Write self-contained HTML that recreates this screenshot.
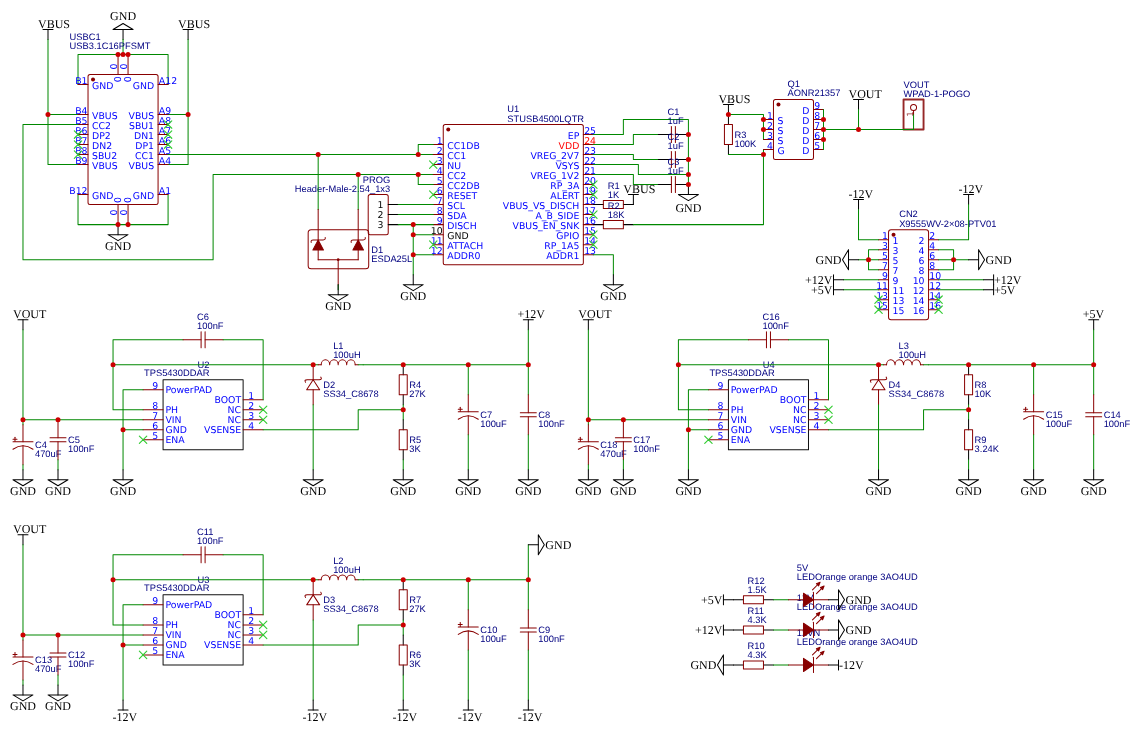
<!DOCTYPE html>
<html><head><meta charset="utf-8"><title>Schematic</title>
<style>
html,body{margin:0;padding:0;background:#fff;}
svg{display:block;will-change:transform}
svg text{text-rendering:geometricPrecision}
.p{font:9.33px "DejaVu Sans","Liberation Sans",sans-serif;fill:#0000ff;stroke:none}
.l{font:9.33px "Liberation Sans",sans-serif;fill:#000080;stroke:none}
.w{font:12px "Liberation Serif",serif;fill:#000;stroke:none}
</style></head><body>
<svg width="1140" height="734" viewBox="0 0 1140 734" fill="none" stroke-linecap="round" stroke-linejoin="round">
<g transform="matrix(1.00064 0 0 1.00064 -0.031 -0.019)">
<path d="M48 39.5L48 29.5" stroke="#000000"/>
<path d="M43 29.5L53 29.5" stroke="#000000"/>
<text x="38" y="27.7" class="w">VBUS</text>
<path d="M48 39.5L48 164.5L78 164.5" stroke="#008800"/>
<path d="M48 114.5L78 114.5" stroke="#008800"/>
<path d="M188 39.5L188 29.5" stroke="#000000"/>
<path d="M183 29.5L193 29.5" stroke="#000000"/>
<text x="178" y="27.7" class="w">VBUS</text>
<path d="M188 39.5L188 164.5L168 164.5" stroke="#008800"/>
<path d="M188 114.5L168 114.5" stroke="#008800"/>
<path d="M123 39.5L123 29.5" stroke="#000000"/>
<path d="M113 29.5L133 29.5L123 23.5Z" stroke="#000000"/>
<text x="123" y="20.5" class="w" text-anchor="middle">GND</text>
<path d="M123 39.5L123 54.5" stroke="#008800"/>
<path d="M78 84.5L78 54.5L168 54.5L168 84.5" stroke="#008800"/>
<path d="M78 194.5L78 224.5L168 224.5L168 194.5" stroke="#008800"/>
<path d="M118 54.5L118 74.5" stroke="#880000"/>
<path d="M128 54.5L128 74.5" stroke="#880000"/>
<path d="M118 204.5L118 224.5" stroke="#880000"/>
<path d="M128 204.5L128 224.5" stroke="#880000"/>
<rect x="88" y="74.5" width="70" height="130" rx="2" stroke="#880000"/>
<circle cx="93" cy="79.5" r="2" fill="#880000" stroke="none"/>
<path d="M118 224.5L118 234.5" stroke="#000000"/>
<path d="M108 234.5L128 234.5L118 240.5Z" stroke="#000000"/>
<text x="118" y="249.5" class="w" text-anchor="middle">GND</text>
<text x="69.5" y="40.2" class="l">USBC1</text>
<text x="69.5" y="49.4" class="l">USB3.1C16PFSMT</text>
<path d="M78 84.5L88 84.5" stroke="#880000"/>
<text x="87.5" y="83.8" class="p" text-anchor="end">B1</text>
<text x="92" y="88.5" class="p">GND</text>
<path d="M78 114.5L88 114.5" stroke="#880000"/>
<text x="87.5" y="113.8" class="p" text-anchor="end">B4</text>
<text x="92" y="118.5" class="p">VBUS</text>
<path d="M78 124.5L88 124.5" stroke="#880000"/>
<text x="87.5" y="123.8" class="p" text-anchor="end">B5</text>
<text x="92" y="128.5" class="p">CC2</text>
<path d="M78 134.5L88 134.5" stroke="#880000"/>
<text x="87.5" y="133.8" class="p" text-anchor="end">B6</text>
<text x="92" y="138.5" class="p">DP2</text>
<path d="M78 144.5L88 144.5" stroke="#880000"/>
<text x="87.5" y="143.8" class="p" text-anchor="end">B7</text>
<text x="92" y="148.5" class="p">DN2</text>
<path d="M78 154.5L88 154.5" stroke="#880000"/>
<text x="87.5" y="153.8" class="p" text-anchor="end">B8</text>
<text x="92" y="158.5" class="p">SBU2</text>
<path d="M78 164.5L88 164.5" stroke="#880000"/>
<text x="87.5" y="163.8" class="p" text-anchor="end">B9</text>
<text x="92" y="168.5" class="p">VBUS</text>
<path d="M78 194.5L88 194.5" stroke="#880000"/>
<text x="87.5" y="193.8" class="p" text-anchor="end">B12</text>
<text x="92" y="198.5" class="p">GND</text>
<path d="M158 84.5L168 84.5" stroke="#880000"/>
<text x="158.8" y="83.8" class="p">A12</text>
<text x="154" y="88.5" class="p" text-anchor="end">GND</text>
<path d="M158 114.5L168 114.5" stroke="#880000"/>
<text x="158.8" y="113.8" class="p">A9</text>
<text x="154" y="118.5" class="p" text-anchor="end">VBUS</text>
<path d="M158 124.5L168 124.5" stroke="#880000"/>
<text x="158.8" y="123.8" class="p">A8</text>
<text x="154" y="128.5" class="p" text-anchor="end">SBU1</text>
<path d="M158 134.5L168 134.5" stroke="#880000"/>
<text x="158.8" y="133.8" class="p">A7</text>
<text x="154" y="138.5" class="p" text-anchor="end">DN1</text>
<path d="M158 144.5L168 144.5" stroke="#880000"/>
<text x="158.8" y="143.8" class="p">A6</text>
<text x="154" y="148.5" class="p" text-anchor="end">DP1</text>
<path d="M158 154.5L168 154.5" stroke="#880000"/>
<text x="158.8" y="153.8" class="p">A5</text>
<text x="154" y="158.5" class="p" text-anchor="end">CC1</text>
<path d="M158 164.5L168 164.5" stroke="#880000"/>
<text x="158.8" y="163.8" class="p">A4</text>
<text x="154" y="168.5" class="p" text-anchor="end">VBUS</text>
<path d="M158 194.5L168 194.5" stroke="#880000"/>
<text x="158.8" y="193.8" class="p">A1</text>
<text x="154" y="198.5" class="p" text-anchor="end">GND</text>
<path d="M74.3 130.8L81.7 138.2M81.7 130.8L74.3 138.2" stroke="#33cc33" stroke-width="1.15"/>
<path d="M74.3 140.8L81.7 148.2M81.7 140.8L74.3 148.2" stroke="#33cc33" stroke-width="1.15"/>
<path d="M74.3 150.8L81.7 158.2M81.7 150.8L74.3 158.2" stroke="#33cc33" stroke-width="1.15"/>
<path d="M164.3 120.8L171.7 128.2M171.7 120.8L164.3 128.2" stroke="#33cc33" stroke-width="1.15"/>
<path d="M164.3 130.8L171.7 138.2M171.7 130.8L164.3 138.2" stroke="#33cc33" stroke-width="1.15"/>
<path d="M164.3 140.8L171.7 148.2M171.7 140.8L164.3 148.2" stroke="#33cc33" stroke-width="1.15"/>
<text class="p" text-anchor="middle" transform="translate(114.6 66.5) rotate(-90)" x="0" y="2">0</text>
<text class="p" text-anchor="middle" transform="translate(124.7 66.5) rotate(-90)" x="0" y="2">0</text>
<text class="p" text-anchor="middle" transform="translate(118.7 79.3) rotate(-90)" x="0" y="2">0</text>
<text class="p" text-anchor="middle" transform="translate(128.6 79.3) rotate(-90)" x="0" y="2">0</text>
<text class="p" text-anchor="middle" transform="translate(118.7 199.8) rotate(-90)" x="0" y="2">0</text>
<text class="p" text-anchor="middle" transform="translate(128.6 199.8) rotate(-90)" x="0" y="2">0</text>
<text class="p" text-anchor="middle" transform="translate(114.6 212.5) rotate(-90)" x="0" y="2">0</text>
<text class="p" text-anchor="middle" transform="translate(124.7 212.5) rotate(-90)" x="0" y="2">0</text>
<path d="M78 124.5L23 124.5L23 259.5L213 259.5L213 174.5L433 174.5" stroke="#008800"/>
<path d="M168 154.5L433 154.5" stroke="#008800"/>
<rect x="443" y="124.5" width="140" height="140" rx="2" stroke="#880000"/>
<circle cx="448" cy="129.5" r="2" fill="#880000" stroke="none"/>
<text x="507" y="112.4" class="l">U1</text>
<text x="507" y="121.6" class="l">STUSB4500LQTR</text>
<path d="M433 144.5L443 144.5" stroke="#880000"/>
<text x="442.5" y="143.8" class="p" text-anchor="end">1</text>
<text x="447" y="148.5" class="p">CC1DB</text>
<path d="M433 154.5L443 154.5" stroke="#880000"/>
<text x="442.5" y="153.8" class="p" text-anchor="end">2</text>
<text x="447" y="158.5" class="p">CC1</text>
<path d="M433 164.5L443 164.5" stroke="#880000"/>
<text x="442.5" y="163.8" class="p" text-anchor="end">3</text>
<text x="447" y="168.5" class="p">NU</text>
<path d="M433 174.5L443 174.5" stroke="#880000"/>
<text x="442.5" y="173.8" class="p" text-anchor="end">4</text>
<text x="447" y="178.5" class="p">CC2</text>
<path d="M433 184.5L443 184.5" stroke="#880000"/>
<text x="442.5" y="183.8" class="p" text-anchor="end">5</text>
<text x="447" y="188.5" class="p">CC2DB</text>
<path d="M433 194.5L443 194.5" stroke="#880000"/>
<text x="442.5" y="193.8" class="p" text-anchor="end">6</text>
<text x="447" y="198.5" class="p">RESET</text>
<path d="M433 204.5L443 204.5" stroke="#880000"/>
<text x="442.5" y="203.8" class="p" text-anchor="end">7</text>
<text x="447" y="208.5" class="p">SCL</text>
<path d="M433 214.5L443 214.5" stroke="#880000"/>
<text x="442.5" y="213.8" class="p" text-anchor="end">8</text>
<text x="447" y="218.5" class="p">SDA</text>
<path d="M433 224.5L443 224.5" stroke="#880000"/>
<text x="442.5" y="223.8" class="p" text-anchor="end">9</text>
<text x="447" y="228.5" class="p">DISCH</text>
<path d="M433 234.5L443 234.5" stroke="#880000"/>
<text x="442.5" y="233.8" class="p" text-anchor="end" style="fill:#000">10</text>
<text x="447" y="238.5" class="p" style="fill:#000">GND</text>
<path d="M433 244.5L443 244.5" stroke="#880000"/>
<text x="442.5" y="243.8" class="p" text-anchor="end">11</text>
<text x="447" y="248.5" class="p">ATTACH</text>
<path d="M433 254.5L443 254.5" stroke="#880000"/>
<text x="442.5" y="253.8" class="p" text-anchor="end">12</text>
<text x="447" y="258.5" class="p">ADDR0</text>
<path d="M583 134.5L593 134.5" stroke="#880000"/>
<text x="583.8" y="133.8" class="p">25</text>
<text x="579" y="138.5" class="p" text-anchor="end">EP</text>
<path d="M583 144.5L593 144.5" stroke="#880000"/>
<text x="583.8" y="143.8" class="p" style="fill:#f00">24</text>
<text x="579" y="148.5" class="p" text-anchor="end" style="fill:#f00">VDD</text>
<path d="M583 154.5L593 154.5" stroke="#880000"/>
<text x="583.8" y="153.8" class="p">23</text>
<text x="579" y="158.5" class="p" text-anchor="end">VREG_2V7</text>
<path d="M583 164.5L593 164.5" stroke="#880000"/>
<text x="583.8" y="163.8" class="p">22</text>
<text x="579" y="168.5" class="p" text-anchor="end">VSYS</text>
<path d="M583 174.5L593 174.5" stroke="#880000"/>
<text x="583.8" y="173.8" class="p">21</text>
<text x="579" y="178.5" class="p" text-anchor="end">VREG_1V2</text>
<path d="M583 184.5L593 184.5" stroke="#880000"/>
<text x="583.8" y="183.8" class="p">20</text>
<text x="579" y="188.5" class="p" text-anchor="end">RP_3A</text>
<path d="M583 194.5L593 194.5" stroke="#880000"/>
<text x="583.8" y="193.8" class="p">19</text>
<text x="579" y="198.5" class="p" text-anchor="end">ALERT</text>
<path d="M583 204.5L593 204.5" stroke="#880000"/>
<text x="583.8" y="203.8" class="p">18</text>
<text x="579" y="208.5" class="p" text-anchor="end">VBUS_VS_DISCH</text>
<path d="M583 214.5L593 214.5" stroke="#880000"/>
<text x="583.8" y="213.8" class="p">17</text>
<text x="579" y="218.5" class="p" text-anchor="end">A_B_SIDE</text>
<path d="M583 224.5L593 224.5" stroke="#880000"/>
<text x="583.8" y="223.8" class="p">16</text>
<text x="579" y="228.5" class="p" text-anchor="end">VBUS_EN_SNK</text>
<path d="M583 234.5L593 234.5" stroke="#880000"/>
<text x="583.8" y="233.8" class="p">15</text>
<text x="579" y="238.5" class="p" text-anchor="end">GPIO</text>
<path d="M583 244.5L593 244.5" stroke="#880000"/>
<text x="583.8" y="243.8" class="p">14</text>
<text x="579" y="248.5" class="p" text-anchor="end">RP_1A5</text>
<path d="M583 254.5L593 254.5" stroke="#880000"/>
<text x="583.8" y="253.8" class="p">13</text>
<text x="579" y="258.5" class="p" text-anchor="end">ADDR1</text>
<path d="M429.3 160.8L436.7 168.2M436.7 160.8L429.3 168.2" stroke="#33cc33" stroke-width="1.15"/>
<path d="M429.3 190.8L436.7 198.2M436.7 190.8L429.3 198.2" stroke="#33cc33" stroke-width="1.15"/>
<path d="M429.3 240.8L436.7 248.2M436.7 240.8L429.3 248.2" stroke="#33cc33" stroke-width="1.15"/>
<path d="M589.3 180.8L596.7 188.2M596.7 180.8L589.3 188.2" stroke="#33cc33" stroke-width="1.15"/>
<path d="M589.3 190.8L596.7 198.2M596.7 190.8L589.3 198.2" stroke="#33cc33" stroke-width="1.15"/>
<path d="M589.3 210.8L596.7 218.2M596.7 210.8L589.3 218.2" stroke="#33cc33" stroke-width="1.15"/>
<path d="M589.3 230.8L596.7 238.2M596.7 230.8L589.3 238.2" stroke="#33cc33" stroke-width="1.15"/>
<path d="M589.3 240.8L596.7 248.2M596.7 240.8L589.3 248.2" stroke="#33cc33" stroke-width="1.15"/>
<path d="M433 144.5L418 144.5L418 154.5" stroke="#008800"/>
<path d="M433 184.5L418 184.5L418 174.5" stroke="#008800"/>
<rect x="368" y="194.5" width="20" height="40" rx="2" stroke="#880000"/>
<path d="M388 204.5L398 204.5" stroke="#000000"/>
<text x="380.3" y="208" class="p" text-anchor="middle" style="fill:#000">1</text>
<path d="M398 204.5L433 204.5" stroke="#008800"/>
<path d="M388 214.5L398 214.5" stroke="#000000"/>
<text x="380.3" y="218" class="p" text-anchor="middle" style="fill:#000">2</text>
<path d="M398 214.5L433 214.5" stroke="#008800"/>
<path d="M388 224.5L398 224.5" stroke="#000000"/>
<text x="380.3" y="228" class="p" text-anchor="middle" style="fill:#000">3</text>
<path d="M398 224.5L433 224.5" stroke="#008800"/>
<text x="390" y="182.7" class="l" text-anchor="end">PROG</text>
<text x="390" y="191.7" class="l" text-anchor="end">Header-Male-2.54_1x3</text>
<path d="M413 224.5L413 274.5" stroke="#008800"/>
<path d="M413 234.5L433 234.5" stroke="#008800"/>
<path d="M413 254.5L433 254.5" stroke="#008800"/>
<path d="M413 274.5L413 284.5" stroke="#000000"/>
<path d="M403 284.5L423 284.5L413 290.5Z" stroke="#000000"/>
<text x="413" y="299.5" class="w" text-anchor="middle">GND</text>
<path d="M593 254.5L613 254.5L613 274.5" stroke="#008800"/>
<path d="M613 274.5L613 284.5" stroke="#000000"/>
<path d="M603 284.5L623 284.5L613 290.5Z" stroke="#000000"/>
<text x="613" y="299.5" class="w" text-anchor="middle">GND</text>
<path d="M318 154.5L318 209.5" stroke="#008800"/>
<path d="M358 174.5L358 209.5" stroke="#008800"/>
<rect x="308" y="229.5" width="60.5" height="39" rx="3" stroke="#880000"/>
<path d="M318 209.5L318 259.5" stroke="#880000"/>
<path d="M318 239.8L312.7 249.8L323.3 249.8Z" stroke="#880000" fill="#880000"/>
<path d="M311 242.3Q310.4 239.8 313 239.8L323 239.8Q325.6 239.8 325 237.3" stroke="#880000"/>
<path d="M358 209.5L358 259.5" stroke="#880000"/>
<path d="M358 239.8L352.7 249.8L363.3 249.8Z" stroke="#880000" fill="#880000"/>
<path d="M351 242.3Q350.4 239.8 353 239.8L363 239.8Q365.6 239.8 365 237.3" stroke="#880000"/>
<path d="M318 259.5L358 259.5" stroke="#880000"/>
<circle cx="338" cy="259.5" r="1.3" fill="#880000" stroke="none"/>
<path d="M338 259.5L338 284.5" stroke="#880000"/>
<path d="M338 284.5L338 294.5" stroke="#000000"/>
<path d="M328 294.5L348 294.5L338 300.5Z" stroke="#000000"/>
<text x="338" y="309.5" class="w" text-anchor="middle">GND</text>
<path d="M338 284.5L338 289.5" stroke="#004400"/>
<text x="371" y="253" class="l">D1</text>
<text x="371" y="262.2" class="l">ESDA25L</text>
<path d="M593 134.5L623 134.5L623 119.5L688 119.5L688 184.5" stroke="#008800"/>
<path d="M593 144.5L633 144.5L633 134.5L658 134.5" stroke="#008800"/>
<path d="M593 154.5L633 154.5L633 159.5L658 159.5" stroke="#008800"/>
<path d="M593 164.5L638 164.5L638 174.5L688 174.5" stroke="#008800"/>
<path d="M593 174.5L633 174.5L633 184.5L658 184.5" stroke="#008800"/>
<path d="M658 134.5L671 134.5" stroke="#000000"/>
<path d="M675 134.5L688 134.5" stroke="#000000"/>
<path d="M671 126.5L671 142.5" stroke="#880000"/>
<path d="M675 126.5L675 142.5" stroke="#880000"/>
<text x="667.2" y="114.9" class="l">C1</text>
<text x="667.2" y="123.9" class="l">1uF</text>
<path d="M658 159.5L671 159.5" stroke="#000000"/>
<path d="M675 159.5L688 159.5" stroke="#000000"/>
<path d="M671 151.5L671 167.5" stroke="#880000"/>
<path d="M675 151.5L675 167.5" stroke="#880000"/>
<text x="667.2" y="139.9" class="l">C2</text>
<text x="667.2" y="148.9" class="l">1uF</text>
<path d="M658 184.5L671 184.5" stroke="#000000"/>
<path d="M675 184.5L688 184.5" stroke="#000000"/>
<path d="M671 176.5L671 192.5" stroke="#880000"/>
<path d="M675 176.5L675 192.5" stroke="#880000"/>
<text x="667.2" y="164.9" class="l">C3</text>
<text x="667.2" y="173.9" class="l">1uF</text>
<path d="M688 184.5L688 194.5" stroke="#000000"/>
<path d="M678 194.5L698 194.5L688 200.5Z" stroke="#000000"/>
<text x="688" y="211.4" class="w" text-anchor="middle">GND</text>
<path d="M593 204.5L603 204.5" stroke="#000000"/>
<path d="M623 204.5L633 204.5" stroke="#000000"/>
<rect x="603" y="200.5" width="20" height="8" stroke="#880000"/>
<text x="607.5" y="188.7" class="l">R1</text>
<text x="607.5" y="197.9" class="l">1K</text>
<path d="M633 204.5L633 194.5" stroke="#000000"/>
<path d="M628 194.5L638 194.5" stroke="#000000"/>
<text x="623" y="192.7" class="w">VBUS</text>
<path d="M593 224.5L603 224.5" stroke="#000000"/>
<path d="M623 224.5L633 224.5" stroke="#000000"/>
<rect x="603" y="220.5" width="20" height="8" stroke="#880000"/>
<text x="607.5" y="208.7" class="l">R2</text>
<text x="607.5" y="217.9" class="l">18K</text>
<path d="M633 224.5L763 224.5L763 154.5" stroke="#008800"/>
<path d="M728 114.5L728 104.5" stroke="#000000"/>
<path d="M723 104.5L733 104.5" stroke="#000000"/>
<text x="718" y="102.7" class="w">VBUS</text>
<path d="M728 114.5L728 124.5" stroke="#000000"/>
<path d="M728 144.5L728 154.5" stroke="#000000"/>
<rect x="724" y="124.5" width="8" height="20" stroke="#880000"/>
<text x="734" y="137.8" class="l">R3</text>
<text x="734" y="147" class="l">100K</text>
<path d="M728 114.5L763 114.5L763 139.5" stroke="#008800"/>
<path d="M728 154.5L763 154.5L763 149.5" stroke="#008800"/>
<rect x="773" y="99.5" width="40" height="60" rx="2" stroke="#880000"/>
<circle cx="778" cy="104.5" r="2" fill="#880000" stroke="none"/>
<text x="787" y="86.5" class="l">Q1</text>
<text x="787" y="95.7" class="l">AONR21357</text>
<path d="M763 119.5L773 119.5" stroke="#880000"/>
<text x="772.5" y="118.8" class="p" text-anchor="end">1</text>
<text x="777" y="123.5" class="p">S</text>
<path d="M763 129.5L773 129.5" stroke="#880000"/>
<text x="772.5" y="128.8" class="p" text-anchor="end">2</text>
<text x="777" y="133.5" class="p">S</text>
<path d="M763 139.5L773 139.5" stroke="#880000"/>
<text x="772.5" y="138.8" class="p" text-anchor="end">3</text>
<text x="777" y="143.5" class="p">S</text>
<path d="M763 149.5L773 149.5" stroke="#880000"/>
<text x="772.5" y="148.8" class="p" text-anchor="end">4</text>
<text x="777" y="153.5" class="p">G</text>
<path d="M813 109.5L823 109.5" stroke="#880000"/>
<text x="813.8" y="108.8" class="p">9</text>
<text x="809" y="113.5" class="p" text-anchor="end">D</text>
<path d="M813 119.5L823 119.5" stroke="#880000"/>
<text x="813.8" y="118.8" class="p">8</text>
<text x="809" y="123.5" class="p" text-anchor="end">D</text>
<path d="M813 129.5L823 129.5" stroke="#880000"/>
<text x="813.8" y="128.8" class="p">7</text>
<text x="809" y="133.5" class="p" text-anchor="end">D</text>
<path d="M813 139.5L823 139.5" stroke="#880000"/>
<text x="813.8" y="138.8" class="p">6</text>
<text x="809" y="143.5" class="p" text-anchor="end">D</text>
<path d="M813 149.5L823 149.5" stroke="#880000"/>
<text x="813.8" y="148.8" class="p">5</text>
<text x="809" y="153.5" class="p" text-anchor="end">D</text>
<path d="M823 109.5L823 149.5" stroke="#008800"/>
<path d="M858 109.5L858 99.5" stroke="#000000"/>
<path d="M853 99.5L863 99.5" stroke="#000000"/>
<text x="848" y="97.7" class="w">VOUT</text>
<path d="M858 109.5L858 129.5" stroke="#008800"/>
<rect x="903" y="99.5" width="20" height="30" stroke="#962828" stroke-width="1.9"/>
<path d="M823 129.5L913 129.5L913 114" stroke="#008800"/>
<circle cx="913" cy="107.5" r="3" stroke="#880000"/>
<path d="M913 110.5L913 114" stroke="#880000"/>
<text class="p" style="fill:#993333;stroke:none;font-size:8.5px" transform="translate(912.3 116.6) rotate(-90)" x="0" y="0">1</text>
<text x="903" y="87.5" class="l">VOUT</text>
<text x="903" y="96.7" class="l">WPAD-1-POGO</text>
<rect x="888" y="229.5" width="40" height="90" rx="2.5" stroke="#880000"/>
<circle cx="893" cy="234.5" r="2" fill="#880000" stroke="none"/>
<text x="898.6" y="217.2" class="l">CN2</text>
<text x="898.6" y="226.4" class="l">X9555WV-2×08-PTV01</text>
<path d="M878 239.5L888 239.5" stroke="#880000"/>
<text x="887.5" y="238.8" class="p" text-anchor="end">1</text>
<text x="892" y="243.5" class="p">1</text>
<path d="M928 239.5L938 239.5" stroke="#880000"/>
<text x="928.8" y="238.8" class="p">2</text>
<text x="924" y="243.5" class="p" text-anchor="end">2</text>
<path d="M878 249.5L888 249.5" stroke="#880000"/>
<text x="887.5" y="248.8" class="p" text-anchor="end">3</text>
<text x="892" y="253.5" class="p">3</text>
<path d="M928 249.5L938 249.5" stroke="#880000"/>
<text x="928.8" y="248.8" class="p">4</text>
<text x="924" y="253.5" class="p" text-anchor="end">4</text>
<path d="M878 259.5L888 259.5" stroke="#880000"/>
<text x="887.5" y="258.8" class="p" text-anchor="end">5</text>
<text x="892" y="263.5" class="p">5</text>
<path d="M928 259.5L938 259.5" stroke="#880000"/>
<text x="928.8" y="258.8" class="p">6</text>
<text x="924" y="263.5" class="p" text-anchor="end">6</text>
<path d="M878 269.5L888 269.5" stroke="#880000"/>
<text x="887.5" y="268.8" class="p" text-anchor="end">7</text>
<text x="892" y="273.5" class="p">7</text>
<path d="M928 269.5L938 269.5" stroke="#880000"/>
<text x="928.8" y="268.8" class="p">8</text>
<text x="924" y="273.5" class="p" text-anchor="end">8</text>
<path d="M878 279.5L888 279.5" stroke="#880000"/>
<text x="887.5" y="278.8" class="p" text-anchor="end">9</text>
<text x="892" y="283.5" class="p">9</text>
<path d="M928 279.5L938 279.5" stroke="#880000"/>
<text x="928.8" y="278.8" class="p">10</text>
<text x="924" y="283.5" class="p" text-anchor="end">10</text>
<path d="M878 289.5L888 289.5" stroke="#880000"/>
<text x="887.5" y="288.8" class="p" text-anchor="end">11</text>
<text x="892" y="293.5" class="p">11</text>
<path d="M928 289.5L938 289.5" stroke="#880000"/>
<text x="928.8" y="288.8" class="p">12</text>
<text x="924" y="293.5" class="p" text-anchor="end">12</text>
<path d="M878 299.5L888 299.5" stroke="#880000"/>
<text x="887.5" y="298.8" class="p" text-anchor="end">13</text>
<text x="892" y="303.5" class="p">13</text>
<path d="M928 299.5L938 299.5" stroke="#880000"/>
<text x="928.8" y="298.8" class="p">14</text>
<text x="924" y="303.5" class="p" text-anchor="end">14</text>
<path d="M878 309.5L888 309.5" stroke="#880000"/>
<text x="887.5" y="308.8" class="p" text-anchor="end">15</text>
<text x="892" y="313.5" class="p">15</text>
<path d="M928 309.5L938 309.5" stroke="#880000"/>
<text x="928.8" y="308.8" class="p">16</text>
<text x="924" y="313.5" class="p" text-anchor="end">16</text>
<path d="M874.3 295.8L881.7 303.2M881.7 295.8L874.3 303.2" stroke="#33cc33" stroke-width="1.15"/>
<path d="M934.3 295.8L941.7 303.2M941.7 295.8L934.3 303.2" stroke="#33cc33" stroke-width="1.15"/>
<path d="M874.3 305.8L881.7 313.2M881.7 305.8L874.3 313.2" stroke="#33cc33" stroke-width="1.15"/>
<path d="M934.3 305.8L941.7 313.2M941.7 305.8L934.3 313.2" stroke="#33cc33" stroke-width="1.15"/>
<path d="M858 209.5L858 199.5" stroke="#000000"/>
<path d="M853 199.5L863 199.5" stroke="#000000"/>
<text x="848" y="197.7" class="w">-12V</text>
<path d="M858 209.5L858 239.5L878 239.5" stroke="#008800"/>
<path d="M968 204.5L968 194.5" stroke="#000000"/>
<path d="M963 194.5L973 194.5" stroke="#000000"/>
<text x="958" y="192.7" class="w">-12V</text>
<path d="M968 204.5L968 239.5L938 239.5" stroke="#008800"/>
<path d="M878 249.5L868 249.5L868 269.5L878 269.5" stroke="#008800"/>
<path d="M878 259.5L858 259.5" stroke="#008800"/>
<path d="M858 259.5L848 259.5" stroke="#000000"/>
<path d="M848 249.5L848 269.5L842 259.5Z" stroke="#000000"/>
<text x="841" y="263.5" class="w" text-anchor="end">GND</text>
<path d="M938 249.5L953 249.5L953 269.5L938 269.5" stroke="#008800"/>
<path d="M938 259.5L968 259.5" stroke="#008800"/>
<path d="M968 259.5L978 259.5" stroke="#000000"/>
<path d="M978 249.5L978 269.5L984 259.5Z" stroke="#000000"/>
<text x="985" y="263.5" class="w">GND</text>
<path d="M878 279.5L843 279.5" stroke="#008800"/>
<path d="M843 279.5L833 279.5" stroke="#000000"/>
<path d="M833 274.5L833 284.5" stroke="#000000"/>
<text x="832" y="283.5" class="w" text-anchor="end">+12V</text>
<path d="M878 289.5L843 289.5" stroke="#008800"/>
<path d="M843 289.5L833 289.5" stroke="#000000"/>
<path d="M833 284.5L833 294.5" stroke="#000000"/>
<text x="832" y="293.5" class="w" text-anchor="end">+5V</text>
<path d="M938 279.5L983 279.5" stroke="#008800"/>
<path d="M983 279.5L993 279.5" stroke="#000000"/>
<path d="M993 274.5L993 284.5" stroke="#000000"/>
<text x="993.4" y="283.5" class="w">+12V</text>
<path d="M938 289.5L983 289.5" stroke="#008800"/>
<path d="M983 289.5L993 289.5" stroke="#000000"/>
<path d="M993 284.5L993 294.5" stroke="#000000"/>
<text x="993.4" y="293.5" class="w">+5V</text>
<path d="M23 329.5L23 319.5" stroke="#000000"/>
<path d="M18 319.5L28 319.5" stroke="#000000"/>
<text x="13" y="317.7" class="w">VOUT</text>
<path d="M23 329.5L23 424.5" stroke="#008800"/>
<path d="M23 419.5L143 419.5" stroke="#008800"/>
<path d="M23 424.5L23 441.5" stroke="#880000"/>
<path d="M23 445.5L23 464.5" stroke="#880000"/>
<path d="M13 441.5L33 441.5" stroke="#880000"/>
<path d="M13 449Q23 442 33 449" stroke="#880000"/>
<path d="M13 439L17 439" stroke="#880000"/>
<path d="M15 437L15 441" stroke="#880000"/>
<text x="35" y="447.8" class="l">C4</text>
<text x="35" y="457" class="l">470uF</text>
<path d="M23 464.5L23 469.5" stroke="#008800"/>
<path d="M23 469.5L23 479.5" stroke="#000000"/>
<path d="M13 479.5L33 479.5L23 485.5Z" stroke="#000000"/>
<text x="23" y="494.5" class="w" text-anchor="middle">GND</text>
<path d="M58 419.5L58 437.5" stroke="#880000"/>
<path d="M58 441.5L58 459.5" stroke="#880000"/>
<path d="M50 437.5L66 437.5" stroke="#880000"/>
<path d="M50 441.5L66 441.5" stroke="#880000"/>
<text x="68" y="442.8" class="l">C5</text>
<text x="68" y="452" class="l">100nF</text>
<path d="M58 459.5L58 469.5" stroke="#008800"/>
<path d="M58 469.5L58 479.5" stroke="#000000"/>
<path d="M48 479.5L68 479.5L58 485.5Z" stroke="#000000"/>
<text x="58" y="494.5" class="w" text-anchor="middle">GND</text>
<rect x="163" y="379.5" width="80" height="70" stroke="#111"/>
<text x="209.3" y="368" class="l" text-anchor="end">U2</text>
<text x="209.3" y="375.9" class="l" text-anchor="end">TPS5430DDAR</text>
<path d="M143 389.5L163 389.5" stroke="#880000"/>
<text x="158" y="388.8" class="p" text-anchor="end">9</text>
<text x="165.4" y="392.5" class="p">PowerPAD</text>
<path d="M143 409.5L163 409.5" stroke="#880000"/>
<text x="158" y="408.8" class="p" text-anchor="end">8</text>
<text x="165.4" y="412.5" class="p">PH</text>
<path d="M143 419.5L163 419.5" stroke="#880000"/>
<text x="158" y="418.8" class="p" text-anchor="end">7</text>
<text x="165.4" y="422.5" class="p">VIN</text>
<path d="M143 429.5L163 429.5" stroke="#880000"/>
<text x="158" y="428.8" class="p" text-anchor="end">6</text>
<text x="165.4" y="432.5" class="p">GND</text>
<path d="M143 439.5L163 439.5" stroke="#880000"/>
<text x="158" y="438.8" class="p" text-anchor="end">5</text>
<text x="165.4" y="442.5" class="p">ENA</text>
<path d="M243 399.5L263 399.5" stroke="#880000"/>
<text x="248" y="398.8" class="p">1</text>
<text x="241" y="402.5" class="p" text-anchor="end">BOOT</text>
<path d="M243 409.5L263 409.5" stroke="#880000"/>
<text x="248" y="408.8" class="p">2</text>
<text x="241" y="412.5" class="p" text-anchor="end">NC</text>
<path d="M243 419.5L263 419.5" stroke="#880000"/>
<text x="248" y="418.8" class="p">3</text>
<text x="241" y="422.5" class="p" text-anchor="end">NC</text>
<path d="M243 429.5L263 429.5" stroke="#880000"/>
<text x="248" y="428.8" class="p">4</text>
<text x="241" y="432.5" class="p" text-anchor="end">VSENSE</text>
<path d="M259.3 405.8L266.7 413.2M266.7 405.8L259.3 413.2" stroke="#33cc33" stroke-width="1.15"/>
<path d="M259.3 415.8L266.7 423.2M266.7 415.8L259.3 423.2" stroke="#33cc33" stroke-width="1.15"/>
<path d="M139.3 435.8L146.7 443.2M146.7 435.8L139.3 443.2" stroke="#33cc33" stroke-width="1.15"/>
<path d="M143 389.5L123 389.5L123 469.5" stroke="#008800"/>
<path d="M143 429.5L123 429.5" stroke="#008800"/>
<path d="M123 469.5L123 479.5" stroke="#000000"/>
<path d="M113 479.5L133 479.5L123 485.5Z" stroke="#000000"/>
<text x="123" y="494.5" class="w" text-anchor="middle">GND</text>
<path d="M143 409.5L113 409.5L113 339.5L183 339.5" stroke="#008800"/>
<path d="M183 339.5L201 339.5" stroke="#880000"/>
<path d="M205 339.5L223 339.5" stroke="#880000"/>
<path d="M201 331.5L201 347.5" stroke="#880000"/>
<path d="M205 331.5L205 347.5" stroke="#880000"/>
<text x="197" y="319.5" class="l">C6</text>
<text x="197" y="328.7" class="l">100nF</text>
<path d="M223 339.5L263 339.5L263 399.5" stroke="#008800"/>
<path d="M113 364.5L313 364.5" stroke="#008800"/>
<path d="M313 364.5L318 364.5" stroke="#008800"/>
<path d="M318 364.5L321 364.5" stroke="#880000"/>
<path d="M355 364.5L358 364.5" stroke="#880000"/>
<path d="M321 364.5A4.25 4.9 0 0 1 329.5 364.5A4.25 4.9 0 0 1 338 364.5A4.25 4.9 0 0 1 346.5 364.5A4.25 4.9 0 0 1 355 364.5" stroke="#880000"/>
<path d="M358 364.5L363 364.5" stroke="#008800"/>
<text x="333" y="348.7" class="l">L1</text>
<text x="333" y="357.9" class="l">100uH</text>
<path d="M363 364.5L528 364.5" stroke="#008800"/>
<path d="M313 364.5L313 379.5" stroke="#880000"/>
<path d="M313 389.5L313 404.5" stroke="#880000"/>
<path d="M313 379.5L306.5 389.5L319.5 389.5Z" stroke="#880000"/>
<path d="M305.4 382.1Q303.6 379.5 307 379.5L319 379.5Q322.4 379.5 320.6 376.9" stroke="#880000"/>
<text x="323" y="387.7" class="l">D2</text>
<text x="323" y="396.9" class="l">SS34_C8678</text>
<path d="M313 404.5L313 469.5" stroke="#008800"/>
<path d="M313 469.5L313 479.5" stroke="#000000"/>
<path d="M303 479.5L323 479.5L313 485.5Z" stroke="#000000"/>
<text x="313" y="494.5" class="w" text-anchor="middle">GND</text>
<path d="M403 364.5L403 374.5" stroke="#000000"/>
<path d="M403 394.5L403 404.5" stroke="#000000"/>
<rect x="399" y="374.5" width="8" height="20" stroke="#880000"/>
<text x="409" y="387.8" class="l">R4</text>
<text x="409" y="397" class="l">27K</text>
<path d="M403 404.5L403 419.5" stroke="#008800"/>
<path d="M403 419.5L403 429.5" stroke="#000000"/>
<path d="M403 449.5L403 459.5" stroke="#000000"/>
<rect x="399" y="429.5" width="8" height="20" stroke="#880000"/>
<text x="409" y="442.8" class="l">R5</text>
<text x="409" y="452" class="l">3K</text>
<path d="M403 459.5L403 469.5" stroke="#008800"/>
<path d="M403 469.5L403 479.5" stroke="#000000"/>
<path d="M393 479.5L413 479.5L403 485.5Z" stroke="#000000"/>
<text x="403" y="494.5" class="w" text-anchor="middle">GND</text>
<path d="M263 429.5L358 429.5L358 409.5L403 409.5" stroke="#008800"/>
<path d="M468 364.5L468 394.5" stroke="#008800"/>
<path d="M468 394.5L468 411.5" stroke="#880000"/>
<path d="M468 415.5L468 434.5" stroke="#880000"/>
<path d="M458 411.5L478 411.5" stroke="#880000"/>
<path d="M458 419Q468 412 478 419" stroke="#880000"/>
<path d="M458 409L462 409" stroke="#880000"/>
<path d="M460 407L460 411" stroke="#880000"/>
<text x="480" y="417.8" class="l">C7</text>
<text x="480" y="427" class="l">100uF</text>
<path d="M468 434.5L468 469.5" stroke="#008800"/>
<path d="M468 469.5L468 479.5" stroke="#000000"/>
<path d="M458 479.5L478 479.5L468 485.5Z" stroke="#000000"/>
<text x="468" y="494.5" class="w" text-anchor="middle">GND</text>
<path d="M528 364.5L528 394.5" stroke="#008800"/>
<path d="M528 394.5L528 412.5" stroke="#880000"/>
<path d="M528 416.5L528 434.5" stroke="#880000"/>
<path d="M520 412.5L536 412.5" stroke="#880000"/>
<path d="M520 416.5L536 416.5" stroke="#880000"/>
<text x="538" y="417.8" class="l">C8</text>
<text x="538" y="427" class="l">100nF</text>
<path d="M528 434.5L528 469.5" stroke="#008800"/>
<path d="M528 469.5L528 479.5" stroke="#000000"/>
<path d="M518 479.5L538 479.5L528 485.5Z" stroke="#000000"/>
<text x="528" y="494.5" class="w" text-anchor="middle">GND</text>
<path d="M528 329.5L528 319.5" stroke="#000000"/>
<path d="M523 319.5L533 319.5" stroke="#000000"/>
<text x="517.2" y="317.7" class="w">+12V</text>
<path d="M528 329.5L528 364.5" stroke="#008800"/>
<path d="M588 329.5L588 319.5" stroke="#000000"/>
<path d="M583 319.5L593 319.5" stroke="#000000"/>
<text x="578" y="317.7" class="w">VOUT</text>
<path d="M588 329.5L588 424.5" stroke="#008800"/>
<path d="M588 419.5L708 419.5" stroke="#008800"/>
<path d="M588 424.5L588 441.5" stroke="#880000"/>
<path d="M588 445.5L588 464.5" stroke="#880000"/>
<path d="M578 441.5L598 441.5" stroke="#880000"/>
<path d="M578 449Q588 442 598 449" stroke="#880000"/>
<path d="M578 439L582 439" stroke="#880000"/>
<path d="M580 437L580 441" stroke="#880000"/>
<text x="600" y="447.8" class="l">C18</text>
<text x="600" y="457" class="l">470uF</text>
<path d="M588 464.5L588 469.5" stroke="#008800"/>
<path d="M588 469.5L588 479.5" stroke="#000000"/>
<path d="M578 479.5L598 479.5L588 485.5Z" stroke="#000000"/>
<text x="588" y="494.5" class="w" text-anchor="middle">GND</text>
<path d="M623 419.5L623 437.5" stroke="#880000"/>
<path d="M623 441.5L623 459.5" stroke="#880000"/>
<path d="M615 437.5L631 437.5" stroke="#880000"/>
<path d="M615 441.5L631 441.5" stroke="#880000"/>
<text x="633" y="442.8" class="l">C17</text>
<text x="633" y="452" class="l">100nF</text>
<path d="M623 459.5L623 469.5" stroke="#008800"/>
<path d="M623 469.5L623 479.5" stroke="#000000"/>
<path d="M613 479.5L633 479.5L623 485.5Z" stroke="#000000"/>
<text x="623" y="494.5" class="w" text-anchor="middle">GND</text>
<rect x="728" y="379.5" width="80" height="70" stroke="#111"/>
<text x="774.3" y="368" class="l" text-anchor="end">U4</text>
<text x="774.3" y="375.9" class="l" text-anchor="end">TPS5430DDAR</text>
<path d="M708 389.5L728 389.5" stroke="#880000"/>
<text x="723" y="388.8" class="p" text-anchor="end">9</text>
<text x="730.4" y="392.5" class="p">PowerPAD</text>
<path d="M708 409.5L728 409.5" stroke="#880000"/>
<text x="723" y="408.8" class="p" text-anchor="end">8</text>
<text x="730.4" y="412.5" class="p">PH</text>
<path d="M708 419.5L728 419.5" stroke="#880000"/>
<text x="723" y="418.8" class="p" text-anchor="end">7</text>
<text x="730.4" y="422.5" class="p">VIN</text>
<path d="M708 429.5L728 429.5" stroke="#880000"/>
<text x="723" y="428.8" class="p" text-anchor="end">6</text>
<text x="730.4" y="432.5" class="p">GND</text>
<path d="M708 439.5L728 439.5" stroke="#880000"/>
<text x="723" y="438.8" class="p" text-anchor="end">5</text>
<text x="730.4" y="442.5" class="p">ENA</text>
<path d="M808 399.5L828 399.5" stroke="#880000"/>
<text x="813" y="398.8" class="p">1</text>
<text x="806" y="402.5" class="p" text-anchor="end">BOOT</text>
<path d="M808 409.5L828 409.5" stroke="#880000"/>
<text x="813" y="408.8" class="p">2</text>
<text x="806" y="412.5" class="p" text-anchor="end">NC</text>
<path d="M808 419.5L828 419.5" stroke="#880000"/>
<text x="813" y="418.8" class="p">3</text>
<text x="806" y="422.5" class="p" text-anchor="end">NC</text>
<path d="M808 429.5L828 429.5" stroke="#880000"/>
<text x="813" y="428.8" class="p">4</text>
<text x="806" y="432.5" class="p" text-anchor="end">VSENSE</text>
<path d="M824.3 405.8L831.7 413.2M831.7 405.8L824.3 413.2" stroke="#33cc33" stroke-width="1.15"/>
<path d="M824.3 415.8L831.7 423.2M831.7 415.8L824.3 423.2" stroke="#33cc33" stroke-width="1.15"/>
<path d="M704.3 435.8L711.7 443.2M711.7 435.8L704.3 443.2" stroke="#33cc33" stroke-width="1.15"/>
<path d="M708 389.5L688 389.5L688 469.5" stroke="#008800"/>
<path d="M708 429.5L688 429.5" stroke="#008800"/>
<path d="M688 469.5L688 479.5" stroke="#000000"/>
<path d="M678 479.5L698 479.5L688 485.5Z" stroke="#000000"/>
<text x="688" y="494.5" class="w" text-anchor="middle">GND</text>
<path d="M708 409.5L678 409.5L678 339.5L748 339.5" stroke="#008800"/>
<path d="M748 339.5L766 339.5" stroke="#880000"/>
<path d="M770 339.5L788 339.5" stroke="#880000"/>
<path d="M766 331.5L766 347.5" stroke="#880000"/>
<path d="M770 331.5L770 347.5" stroke="#880000"/>
<text x="762" y="319.5" class="l">C16</text>
<text x="762" y="328.7" class="l">100nF</text>
<path d="M788 339.5L828 339.5L828 399.5" stroke="#008800"/>
<path d="M678 364.5L878 364.5" stroke="#008800"/>
<path d="M878 364.5L883 364.5" stroke="#008800"/>
<path d="M883 364.5L886 364.5" stroke="#880000"/>
<path d="M920 364.5L923 364.5" stroke="#880000"/>
<path d="M886 364.5A4.25 4.9 0 0 1 894.5 364.5A4.25 4.9 0 0 1 903 364.5A4.25 4.9 0 0 1 911.5 364.5A4.25 4.9 0 0 1 920 364.5" stroke="#880000"/>
<path d="M923 364.5L928 364.5" stroke="#008800"/>
<text x="898" y="348.7" class="l">L3</text>
<text x="898" y="357.9" class="l">100uH</text>
<path d="M928 364.5L1093 364.5" stroke="#008800"/>
<path d="M878 364.5L878 379.5" stroke="#880000"/>
<path d="M878 389.5L878 404.5" stroke="#880000"/>
<path d="M878 379.5L871.5 389.5L884.5 389.5Z" stroke="#880000"/>
<path d="M870.4 382.1Q868.6 379.5 872 379.5L884 379.5Q887.4 379.5 885.6 376.9" stroke="#880000"/>
<text x="888" y="387.7" class="l">D4</text>
<text x="888" y="396.9" class="l">SS34_C8678</text>
<path d="M878 404.5L878 469.5" stroke="#008800"/>
<path d="M878 469.5L878 479.5" stroke="#000000"/>
<path d="M868 479.5L888 479.5L878 485.5Z" stroke="#000000"/>
<text x="878" y="494.5" class="w" text-anchor="middle">GND</text>
<path d="M968 364.5L968 374.5" stroke="#000000"/>
<path d="M968 394.5L968 404.5" stroke="#000000"/>
<rect x="964" y="374.5" width="8" height="20" stroke="#880000"/>
<text x="974" y="387.8" class="l">R8</text>
<text x="974" y="397" class="l">10K</text>
<path d="M968 404.5L968 419.5" stroke="#008800"/>
<path d="M968 419.5L968 429.5" stroke="#000000"/>
<path d="M968 449.5L968 459.5" stroke="#000000"/>
<rect x="964" y="429.5" width="8" height="20" stroke="#880000"/>
<text x="974" y="442.8" class="l">R9</text>
<text x="974" y="452" class="l">3.24K</text>
<path d="M968 459.5L968 469.5" stroke="#008800"/>
<path d="M968 469.5L968 479.5" stroke="#000000"/>
<path d="M958 479.5L978 479.5L968 485.5Z" stroke="#000000"/>
<text x="968" y="494.5" class="w" text-anchor="middle">GND</text>
<path d="M828 429.5L923 429.5L923 409.5L968 409.5" stroke="#008800"/>
<path d="M1033 364.5L1033 394.5" stroke="#008800"/>
<path d="M1033 394.5L1033 411.5" stroke="#880000"/>
<path d="M1033 415.5L1033 434.5" stroke="#880000"/>
<path d="M1023 411.5L1043 411.5" stroke="#880000"/>
<path d="M1023 419Q1033 412 1043 419" stroke="#880000"/>
<path d="M1023 409L1027 409" stroke="#880000"/>
<path d="M1025 407L1025 411" stroke="#880000"/>
<text x="1045" y="417.8" class="l">C15</text>
<text x="1045" y="427" class="l">100uF</text>
<path d="M1033 434.5L1033 469.5" stroke="#008800"/>
<path d="M1033 469.5L1033 479.5" stroke="#000000"/>
<path d="M1023 479.5L1043 479.5L1033 485.5Z" stroke="#000000"/>
<text x="1033" y="494.5" class="w" text-anchor="middle">GND</text>
<path d="M1093 364.5L1093 394.5" stroke="#008800"/>
<path d="M1093 394.5L1093 412.5" stroke="#880000"/>
<path d="M1093 416.5L1093 434.5" stroke="#880000"/>
<path d="M1085 412.5L1101 412.5" stroke="#880000"/>
<path d="M1085 416.5L1101 416.5" stroke="#880000"/>
<text x="1103" y="417.8" class="l">C14</text>
<text x="1103" y="427" class="l">100nF</text>
<path d="M1093 434.5L1093 469.5" stroke="#008800"/>
<path d="M1093 469.5L1093 479.5" stroke="#000000"/>
<path d="M1083 479.5L1103 479.5L1093 485.5Z" stroke="#000000"/>
<text x="1093" y="494.5" class="w" text-anchor="middle">GND</text>
<path d="M1093 329.5L1093 319.5" stroke="#000000"/>
<path d="M1088 319.5L1098 319.5" stroke="#000000"/>
<text x="1082.2" y="317.7" class="w">+5V</text>
<path d="M1093 329.5L1093 364.5" stroke="#008800"/>
<path d="M23 544.5L23 534.5" stroke="#000000"/>
<path d="M18 534.5L28 534.5" stroke="#000000"/>
<text x="13" y="532.7" class="w">VOUT</text>
<path d="M23 544.5L23 639.5" stroke="#008800"/>
<path d="M23 634.5L143 634.5" stroke="#008800"/>
<path d="M23 639.5L23 656.5" stroke="#880000"/>
<path d="M23 660.5L23 679.5" stroke="#880000"/>
<path d="M13 656.5L33 656.5" stroke="#880000"/>
<path d="M13 664Q23 657 33 664" stroke="#880000"/>
<path d="M13 654L17 654" stroke="#880000"/>
<path d="M15 652L15 656" stroke="#880000"/>
<text x="35" y="662.8" class="l">C13</text>
<text x="35" y="672" class="l">470uF</text>
<path d="M23 679.5L23 684.5" stroke="#008800"/>
<path d="M23 684.5L23 694.5" stroke="#000000"/>
<path d="M13 694.5L33 694.5L23 700.5Z" stroke="#000000"/>
<text x="23" y="709.5" class="w" text-anchor="middle">GND</text>
<path d="M58 634.5L58 652.5" stroke="#880000"/>
<path d="M58 656.5L58 674.5" stroke="#880000"/>
<path d="M50 652.5L66 652.5" stroke="#880000"/>
<path d="M50 656.5L66 656.5" stroke="#880000"/>
<text x="68" y="657.8" class="l">C12</text>
<text x="68" y="667" class="l">100nF</text>
<path d="M58 674.5L58 684.5" stroke="#008800"/>
<path d="M58 684.5L58 694.5" stroke="#000000"/>
<path d="M48 694.5L68 694.5L58 700.5Z" stroke="#000000"/>
<text x="58" y="709.5" class="w" text-anchor="middle">GND</text>
<rect x="163" y="594.5" width="80" height="70" stroke="#111"/>
<text x="209.3" y="583" class="l" text-anchor="end">U3</text>
<text x="209.3" y="590.9" class="l" text-anchor="end">TPS5430DDAR</text>
<path d="M143 604.5L163 604.5" stroke="#880000"/>
<text x="158" y="603.8" class="p" text-anchor="end">9</text>
<text x="165.4" y="607.5" class="p">PowerPAD</text>
<path d="M143 624.5L163 624.5" stroke="#880000"/>
<text x="158" y="623.8" class="p" text-anchor="end">8</text>
<text x="165.4" y="627.5" class="p">PH</text>
<path d="M143 634.5L163 634.5" stroke="#880000"/>
<text x="158" y="633.8" class="p" text-anchor="end">7</text>
<text x="165.4" y="637.5" class="p">VIN</text>
<path d="M143 644.5L163 644.5" stroke="#880000"/>
<text x="158" y="643.8" class="p" text-anchor="end">6</text>
<text x="165.4" y="647.5" class="p">GND</text>
<path d="M143 654.5L163 654.5" stroke="#880000"/>
<text x="158" y="653.8" class="p" text-anchor="end">5</text>
<text x="165.4" y="657.5" class="p">ENA</text>
<path d="M243 614.5L263 614.5" stroke="#880000"/>
<text x="248" y="613.8" class="p">1</text>
<text x="241" y="617.5" class="p" text-anchor="end">BOOT</text>
<path d="M243 624.5L263 624.5" stroke="#880000"/>
<text x="248" y="623.8" class="p">2</text>
<text x="241" y="627.5" class="p" text-anchor="end">NC</text>
<path d="M243 634.5L263 634.5" stroke="#880000"/>
<text x="248" y="633.8" class="p">3</text>
<text x="241" y="637.5" class="p" text-anchor="end">NC</text>
<path d="M243 644.5L263 644.5" stroke="#880000"/>
<text x="248" y="643.8" class="p">4</text>
<text x="241" y="647.5" class="p" text-anchor="end">VSENSE</text>
<path d="M259.3 620.8L266.7 628.2M266.7 620.8L259.3 628.2" stroke="#33cc33" stroke-width="1.15"/>
<path d="M259.3 630.8L266.7 638.2M266.7 630.8L259.3 638.2" stroke="#33cc33" stroke-width="1.15"/>
<path d="M139.3 650.8L146.7 658.2M146.7 650.8L139.3 658.2" stroke="#33cc33" stroke-width="1.15"/>
<path d="M143 604.5L123 604.5L123 699.5" stroke="#008800"/>
<path d="M143 644.5L123 644.5" stroke="#008800"/>
<path d="M123 699.5L123 709.5" stroke="#000000"/>
<path d="M118 709.5L128 709.5" stroke="#000000"/>
<text x="112.4" y="720.7" class="w">-12V</text>
<path d="M143 624.5L113 624.5L113 554.5L183 554.5" stroke="#008800"/>
<path d="M183 554.5L201 554.5" stroke="#880000"/>
<path d="M205 554.5L223 554.5" stroke="#880000"/>
<path d="M201 546.5L201 562.5" stroke="#880000"/>
<path d="M205 546.5L205 562.5" stroke="#880000"/>
<text x="197" y="534.5" class="l">C11</text>
<text x="197" y="543.7" class="l">100nF</text>
<path d="M223 554.5L263 554.5L263 614.5" stroke="#008800"/>
<path d="M113 579.5L313 579.5" stroke="#008800"/>
<path d="M313 579.5L318 579.5" stroke="#008800"/>
<path d="M318 579.5L321 579.5" stroke="#880000"/>
<path d="M355 579.5L358 579.5" stroke="#880000"/>
<path d="M321 579.5A4.25 4.9 0 0 1 329.5 579.5A4.25 4.9 0 0 1 338 579.5A4.25 4.9 0 0 1 346.5 579.5A4.25 4.9 0 0 1 355 579.5" stroke="#880000"/>
<path d="M358 579.5L363 579.5" stroke="#008800"/>
<text x="333" y="563.7" class="l">L2</text>
<text x="333" y="572.9" class="l">100uH</text>
<path d="M363 579.5L528 579.5" stroke="#008800"/>
<path d="M313 579.5L313 594.5" stroke="#880000"/>
<path d="M313 604.5L313 619.5" stroke="#880000"/>
<path d="M313 594.5L306.5 604.5L319.5 604.5Z" stroke="#880000"/>
<path d="M305.4 597.1Q303.6 594.5 307 594.5L319 594.5Q322.4 594.5 320.6 591.9" stroke="#880000"/>
<text x="323" y="602.7" class="l">D3</text>
<text x="323" y="611.9" class="l">SS34_C8678</text>
<path d="M313 619.5L313 699.5" stroke="#008800"/>
<path d="M313 699.5L313 709.5" stroke="#000000"/>
<path d="M308 709.5L318 709.5" stroke="#000000"/>
<text x="302.4" y="720.7" class="w">-12V</text>
<path d="M403 579.5L403 589.5" stroke="#000000"/>
<path d="M403 609.5L403 619.5" stroke="#000000"/>
<rect x="399" y="589.5" width="8" height="20" stroke="#880000"/>
<text x="409" y="602.8" class="l">R7</text>
<text x="409" y="612" class="l">27K</text>
<path d="M403 619.5L403 634.5" stroke="#008800"/>
<path d="M403 634.5L403 644.5" stroke="#000000"/>
<path d="M403 664.5L403 674.5" stroke="#000000"/>
<rect x="399" y="644.5" width="8" height="20" stroke="#880000"/>
<text x="409" y="657.8" class="l">R6</text>
<text x="409" y="667" class="l">3K</text>
<path d="M403 674.5L403 699.5" stroke="#008800"/>
<path d="M403 699.5L403 709.5" stroke="#000000"/>
<path d="M398 709.5L408 709.5" stroke="#000000"/>
<text x="392.4" y="720.7" class="w">-12V</text>
<path d="M263 644.5L358 644.5L358 624.5L403 624.5" stroke="#008800"/>
<path d="M468 579.5L468 609.5" stroke="#008800"/>
<path d="M468 609.5L468 626.5" stroke="#880000"/>
<path d="M468 630.5L468 649.5" stroke="#880000"/>
<path d="M458 626.5L478 626.5" stroke="#880000"/>
<path d="M458 634Q468 627 478 634" stroke="#880000"/>
<path d="M458 624L462 624" stroke="#880000"/>
<path d="M460 622L460 626" stroke="#880000"/>
<text x="480" y="632.8" class="l">C10</text>
<text x="480" y="642" class="l">100uF</text>
<path d="M468 649.5L468 699.5" stroke="#008800"/>
<path d="M468 699.5L468 709.5" stroke="#000000"/>
<path d="M463 709.5L473 709.5" stroke="#000000"/>
<text x="457.4" y="720.7" class="w">-12V</text>
<path d="M528 579.5L528 609.5" stroke="#008800"/>
<path d="M528 609.5L528 627.5" stroke="#880000"/>
<path d="M528 631.5L528 649.5" stroke="#880000"/>
<path d="M520 627.5L536 627.5" stroke="#880000"/>
<path d="M520 631.5L536 631.5" stroke="#880000"/>
<text x="538" y="632.8" class="l">C9</text>
<text x="538" y="642" class="l">100nF</text>
<path d="M528 649.5L528 699.5" stroke="#008800"/>
<path d="M528 699.5L528 709.5" stroke="#000000"/>
<path d="M523 709.5L533 709.5" stroke="#000000"/>
<text x="517.4" y="720.7" class="w">-12V</text>
<path d="M528 579.5L528 544.5" stroke="#008800"/>
<path d="M528 544.5L538 544.5" stroke="#000000"/>
<path d="M538 534.5L538 554.5L544 544.5Z" stroke="#000000"/>
<text x="545" y="548.5" class="w">GND</text>
<text x="796.3" y="570.2" class="l">5V</text>
<text x="796.3" y="579.4" class="l">LEDOrange orange 3AO4UD</text>
<text x="796.3" y="600.2" class="l">12V</text>
<text x="796.3" y="609.4" class="l">LEDOrange orange 3AO4UD</text>
<text x="796.3" y="635.2" class="l">12VN</text>
<text x="796.3" y="644.4" class="l">LEDOrange orange 3AO4UD</text>
<path d="M733 599.5L723 599.5" stroke="#000000"/>
<path d="M723 594.5L723 604.5" stroke="#000000"/>
<text x="722" y="603.5" class="w" text-anchor="end">+5V</text>
<path d="M733 599.5L743 599.5" stroke="#000000"/>
<path d="M763 599.5L773 599.5" stroke="#000000"/>
<rect x="743" y="595.5" width="20" height="8" stroke="#880000"/>
<text x="747" y="583.5" class="l">R12</text>
<text x="747" y="592.7" class="l">1.5K</text>
<path d="M773 599.5L788 599.5" stroke="#008800"/>
<path d="M788 599.5L828 599.5" stroke="#880000"/>
<path d="M803 592.9L803 606.1L813 599.5Z" stroke="#880000" fill="#880000"/>
<path d="M813 591.8L813 607.2" stroke="#880000"/>
<path d="M812 589.5L818.1 583.4" stroke="#880000"/>
<path d="M819.6 581.9L815.9 583.4L818.1 585.6Z" stroke="#880000" fill="#880000"/>
<path d="M816 593.3L822.1 587.2" stroke="#880000"/>
<path d="M823.6 585.7L819.9 587.2L822.1 589.4Z" stroke="#880000" fill="#880000"/>
<path d="M828 599.5L838 599.5" stroke="#000000"/>
<path d="M838 589.5L838 609.5L844 599.5Z" stroke="#000000"/>
<text x="845" y="603.5" class="w">GND</text>
<path d="M733 629.5L723 629.5" stroke="#000000"/>
<path d="M723 624.5L723 634.5" stroke="#000000"/>
<text x="722" y="633.5" class="w" text-anchor="end">+12V</text>
<path d="M733 629.5L743 629.5" stroke="#000000"/>
<path d="M763 629.5L773 629.5" stroke="#000000"/>
<rect x="743" y="625.5" width="20" height="8" stroke="#880000"/>
<text x="747" y="613.5" class="l">R11</text>
<text x="747" y="622.7" class="l">4.3K</text>
<path d="M773 629.5L788 629.5" stroke="#008800"/>
<path d="M788 629.5L828 629.5" stroke="#880000"/>
<path d="M803 622.9L803 636.1L813 629.5Z" stroke="#880000" fill="#880000"/>
<path d="M813 621.8L813 637.2" stroke="#880000"/>
<path d="M812 619.5L818.1 613.4" stroke="#880000"/>
<path d="M819.6 611.9L815.9 613.4L818.1 615.6Z" stroke="#880000" fill="#880000"/>
<path d="M816 623.3L822.1 617.2" stroke="#880000"/>
<path d="M823.6 615.7L819.9 617.2L822.1 619.4Z" stroke="#880000" fill="#880000"/>
<path d="M828 629.5L838 629.5" stroke="#000000"/>
<path d="M838 619.5L838 639.5L844 629.5Z" stroke="#000000"/>
<text x="845" y="633.5" class="w">GND</text>
<path d="M733 664.5L723 664.5" stroke="#000000"/>
<path d="M723 654.5L723 674.5L717 664.5Z" stroke="#000000"/>
<text x="716" y="668.5" class="w" text-anchor="end">GND</text>
<path d="M733 664.5L743 664.5" stroke="#000000"/>
<path d="M763 664.5L773 664.5" stroke="#000000"/>
<rect x="743" y="660.5" width="20" height="8" stroke="#880000"/>
<text x="747" y="648.5" class="l">R10</text>
<text x="747" y="657.7" class="l">4.3K</text>
<path d="M773 664.5L788 664.5" stroke="#008800"/>
<path d="M788 664.5L828 664.5" stroke="#880000"/>
<path d="M803 657.9L803 671.1L813 664.5Z" stroke="#880000" fill="#880000"/>
<path d="M813 656.8L813 672.2" stroke="#880000"/>
<path d="M812 654.5L818.1 648.4" stroke="#880000"/>
<path d="M819.6 646.9L815.9 648.4L818.1 650.6Z" stroke="#880000" fill="#880000"/>
<path d="M816 658.3L822.1 652.2" stroke="#880000"/>
<path d="M823.6 650.7L819.9 652.2L822.1 654.4Z" stroke="#880000" fill="#880000"/>
<path d="M828 664.5L838 664.5" stroke="#000000"/>
<path d="M838 659.5L838 669.5" stroke="#000000"/>
<text x="838.4" y="668.5" class="w">-12V</text>
<circle cx="48" cy="114.5" r="2.5" fill="#CC0000" stroke="none"/>
<circle cx="188" cy="114.5" r="2.5" fill="#CC0000" stroke="none"/>
<circle cx="118" cy="54.5" r="2.5" fill="#CC0000" stroke="none"/>
<circle cx="123" cy="54.5" r="2.5" fill="#CC0000" stroke="none"/>
<circle cx="128" cy="54.5" r="2.5" fill="#CC0000" stroke="none"/>
<circle cx="118" cy="224.5" r="2.5" fill="#CC0000" stroke="none"/>
<circle cx="128" cy="224.5" r="2.5" fill="#CC0000" stroke="none"/>
<circle cx="418" cy="154.5" r="2.5" fill="#CC0000" stroke="none"/>
<circle cx="418" cy="174.5" r="2.5" fill="#CC0000" stroke="none"/>
<circle cx="318" cy="154.5" r="2.5" fill="#CC0000" stroke="none"/>
<circle cx="358" cy="174.5" r="2.5" fill="#CC0000" stroke="none"/>
<circle cx="413" cy="224.5" r="2.5" fill="#CC0000" stroke="none"/>
<circle cx="413" cy="234.5" r="2.5" fill="#CC0000" stroke="none"/>
<circle cx="413" cy="254.5" r="2.5" fill="#CC0000" stroke="none"/>
<circle cx="688" cy="134.5" r="2.5" fill="#CC0000" stroke="none"/>
<circle cx="688" cy="159.5" r="2.5" fill="#CC0000" stroke="none"/>
<circle cx="688" cy="174.5" r="2.5" fill="#CC0000" stroke="none"/>
<circle cx="688" cy="184.5" r="2.5" fill="#CC0000" stroke="none"/>
<circle cx="728" cy="114.5" r="2.5" fill="#CC0000" stroke="none"/>
<circle cx="763" cy="119.5" r="2.5" fill="#CC0000" stroke="none"/>
<circle cx="763" cy="129.5" r="2.5" fill="#CC0000" stroke="none"/>
<circle cx="763" cy="154.5" r="2.5" fill="#CC0000" stroke="none"/>
<circle cx="823" cy="119.5" r="2.5" fill="#CC0000" stroke="none"/>
<circle cx="823" cy="129.5" r="2.5" fill="#CC0000" stroke="none"/>
<circle cx="823" cy="139.5" r="2.5" fill="#CC0000" stroke="none"/>
<circle cx="858" cy="129.5" r="2.5" fill="#CC0000" stroke="none"/>
<circle cx="868" cy="259.5" r="2.5" fill="#CC0000" stroke="none"/>
<circle cx="953" cy="259.5" r="2.5" fill="#CC0000" stroke="none"/>
<circle cx="23" cy="419.5" r="2.5" fill="#CC0000" stroke="none"/>
<circle cx="58" cy="419.5" r="2.5" fill="#CC0000" stroke="none"/>
<circle cx="123" cy="429.5" r="2.5" fill="#CC0000" stroke="none"/>
<circle cx="113" cy="364.5" r="2.5" fill="#CC0000" stroke="none"/>
<circle cx="313" cy="364.5" r="2.5" fill="#CC0000" stroke="none"/>
<circle cx="403" cy="364.5" r="2.5" fill="#CC0000" stroke="none"/>
<circle cx="468" cy="364.5" r="2.5" fill="#CC0000" stroke="none"/>
<circle cx="528" cy="364.5" r="2.5" fill="#CC0000" stroke="none"/>
<circle cx="403" cy="409.5" r="2.5" fill="#CC0000" stroke="none"/>
<circle cx="588" cy="419.5" r="2.5" fill="#CC0000" stroke="none"/>
<circle cx="623" cy="419.5" r="2.5" fill="#CC0000" stroke="none"/>
<circle cx="688" cy="429.5" r="2.5" fill="#CC0000" stroke="none"/>
<circle cx="678" cy="364.5" r="2.5" fill="#CC0000" stroke="none"/>
<circle cx="878" cy="364.5" r="2.5" fill="#CC0000" stroke="none"/>
<circle cx="968" cy="364.5" r="2.5" fill="#CC0000" stroke="none"/>
<circle cx="1033" cy="364.5" r="2.5" fill="#CC0000" stroke="none"/>
<circle cx="1093" cy="364.5" r="2.5" fill="#CC0000" stroke="none"/>
<circle cx="968" cy="409.5" r="2.5" fill="#CC0000" stroke="none"/>
<circle cx="23" cy="634.5" r="2.5" fill="#CC0000" stroke="none"/>
<circle cx="58" cy="634.5" r="2.5" fill="#CC0000" stroke="none"/>
<circle cx="123" cy="644.5" r="2.5" fill="#CC0000" stroke="none"/>
<circle cx="113" cy="579.5" r="2.5" fill="#CC0000" stroke="none"/>
<circle cx="313" cy="579.5" r="2.5" fill="#CC0000" stroke="none"/>
<circle cx="403" cy="579.5" r="2.5" fill="#CC0000" stroke="none"/>
<circle cx="468" cy="579.5" r="2.5" fill="#CC0000" stroke="none"/>
<circle cx="528" cy="579.5" r="2.5" fill="#CC0000" stroke="none"/>
<circle cx="403" cy="624.5" r="2.5" fill="#CC0000" stroke="none"/>
</g>
</svg>
</body></html>
